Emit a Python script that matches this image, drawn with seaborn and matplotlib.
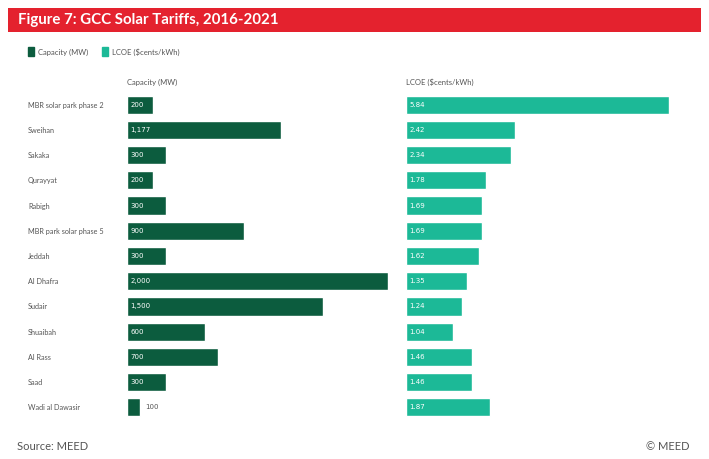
import pandas as pd
import numpy as np
import matplotlib.pyplot as plt
import seaborn as sns

# data (projects in chart order)
projects = ['MBR solar park phase 2', 'Sweihan', 'Sakaka', 'Qurayyat', 'Rabigh',
            'MBR park solar phase 5', 'Jeddah', 'Al Dhafra', 'Sudair', 'Shuaibah',
            'Al Rass', 'Saad', 'Wadi al Dawasir']
capacity_mw = [200, 1177, 300, 200, 300, 900, 300, 2000, 1500, 600, 700, 300, 100]
lcoe_cents = [5.84, 2.42, 2.34, 1.78, 1.69, 1.69, 1.62, 1.35, 1.24, 1.04, 1.46, 1.46, 1.87]

dark_green = '#0c5c3e'
light_green = '#1cb997'
red = '#e4222e'
grey = '#555555'

sns.set_style('white')
plt.rcParams['font.family'] = ['Lato', 'DejaVu Sans']

df = pd.DataFrame({'project': projects, 'capacity': capacity_mw, 'lcoe': lcoe_cents})

W, H = 709, 459
fig = plt.figure(figsize=(W / 100, H / 100), dpi=100)


def px(x0, y0, x1, y1):
    # pixel box (from top-left) -> figure fraction rect
    return [x0 / W, 1 - y1 / H, (x1 - x0) / W, (y1 - y0) / H]


# title banner
banner = fig.add_axes(px(8, 8, 701, 32))
banner.set_facecolor(red)
banner.set_xticks([])
banner.set_yticks([])
for s in banner.spines.values():
    s.set_visible(False)
fig.text(18 / W, 1 - 20 / H, 'Figure 7: GCC Solar Tariffs, 2016-2021', color='white',
         fontsize=10.8, fontweight='bold', va='center', ha='left')

# legend
leg_y = 1 - 52 / H
fig.patches.append(plt.Rectangle((28 / W, 1 - 56 / H), 6 / W, 9 / H, color=dark_green,
                                 transform=fig.transFigure, figure=fig))
fig.text(38 / W, leg_y, 'Capacity (MW)', fontsize=5.5, color=grey, va='center')
fig.patches.append(plt.Rectangle((102 / W, 1 - 56 / H), 6 / W, 9 / H, color=light_green,
                                 transform=fig.transFigure, figure=fig))
fig.text(112 / W, leg_y, 'LCOE ($cents/kWh)', fontsize=5.5, color=grey, va='center')

# column headers
fig.text(127 / W, 1 - 82 / H, 'Capacity (MW)', fontsize=5.5, color=grey, va='center')
fig.text(406 / W, 1 - 82 / H, 'LCOE ($cents/kWh)', fontsize=5.5, color=grey, va='center')

ax1 = fig.add_axes(px(127, 92, 388, 420))
ax2 = fig.add_axes(px(406, 92, 669, 420))

sns.barplot(data=df, y='project', x='capacity', orient='h', color=dark_green,
            width=0.72, saturation=1, ax=ax1)
sns.barplot(data=df, y='project', x='lcoe', orient='h', color=light_green,
            width=0.72, saturation=1, ax=ax2)

ax1.set_xlim(0, 2000)
ax2.set_xlim(0, 5.84)
for ax in (ax1, ax2):
    ax.set_ylim(len(projects) - 0.5, -0.5)
    ax.set_xlabel('')
    ax.set_ylabel('')
    ax.set_xticks([])
    for s in ax.spines.values():
        s.set_visible(False)
    ax.patch.set_alpha(0)

ax1.set_yticks(range(len(projects)))
ax1.set_yticklabels(projects, ha='left', fontsize=5.2, color=grey)
ax1.tick_params(axis='y', length=0, pad=(127 - 28) * 0.72)
ax2.set_yticks([])

# value labels (DejaVu so the small commas / points stay visible)
for i, v in enumerate(capacity_mw):
    txt = f'{v:,}'
    if v < 150:
        ax1.text(v + 40, i, txt, color=grey, fontsize=5, va='center', ha='left',
                 family='DejaVu Sans')
    else:
        ax1.text(25, i, txt, color='white', fontsize=5, va='center', ha='left',
                 family='DejaVu Sans')
for i, v in enumerate(lcoe_cents):
    ax2.text(0.07, i, f'{v:.2f}', color='white', fontsize=5, va='center', ha='left',
             family='DejaVu Sans')

# footer
fig.text(17 / W, 1 - 446 / H, 'Source: MEED', fontsize=8, color=grey, va='center')
fig.text(690 / W, 1 - 446 / H, '\u00a9 MEED', fontsize=8, color=grey, va='center', ha='right')

fig.savefig('out.png', dpi=100)
